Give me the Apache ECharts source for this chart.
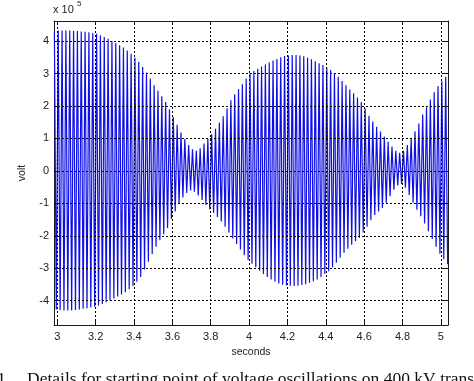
<!DOCTYPE html>
<html>
<head>
<meta charset="utf-8">
<script src="https://cdn.jsdelivr.net/npm/echarts@6/dist/echarts.min.js"></script>
<style>
html,body{margin:0;padding:0;background:#fff;}
#chart{width:474px;height:381px;}
</style>
</head>
<body>
<div id="chart"></div>
<script>
// Time (s) of each positive peak
const peakTimes = [2.985,3.005,3.025,3.045,3.065,3.085,3.105,3.125,3.145,3.165,
3.185,3.205,3.225,3.245,3.265,3.285,3.305,3.325,3.345,3.365,
3.385,3.405,3.425,3.445,3.465,3.485,3.505,3.525,3.545,3.565,
3.585,3.605,3.625,3.645,3.665,3.685,3.705,3.725,3.745,3.765,
3.785,3.805,3.825,3.845,3.865,3.885,3.905,3.925,3.945,3.965,
3.985,4.005,4.025,4.045,4.065,4.085,4.105,4.125,4.145,4.165,
4.185,4.205,4.225,4.245,4.265,4.285,4.305,4.325,4.345,4.365,
4.385,4.405,4.425,4.445,4.465,4.485,4.505,4.525,4.545,4.565,
4.585,4.605,4.625,4.645,4.665,4.685,4.705,4.725,4.745,4.765,
4.785,4.805,4.825,4.845,4.865,4.885,4.905,4.925,4.945,4.965,
4.985,5.005,5.025];
// Positive peak voltage (x 10^5 V)
const peakVolts = [4.30,4.33,4.33,4.33,4.33,4.32,4.31,4.30,4.29,4.27,
4.25,4.23,4.18,4.13,4.07,4.00,3.94,3.87,3.80,3.71,
3.61,3.49,3.36,3.20,3.03,2.85,2.64,2.47,2.30,2.12,
1.90,1.66,1.42,1.18,0.98,0.80,0.67,0.62,0.70,0.84,
0.98,1.13,1.30,1.48,1.68,1.93,2.18,2.36,2.52,2.67,
2.84,3.00,3.08,3.15,3.22,3.28,3.34,3.40,3.45,3.50,
3.54,3.56,3.57,3.57,3.56,3.53,3.49,3.44,3.38,3.32,
3.26,3.19,3.11,3.01,2.90,2.77,2.64,2.51,2.39,2.26,
2.12,1.92,1.70,1.52,1.36,1.21,1.06,0.90,0.75,0.62,
0.56,0.62,0.80,1.00,1.22,1.46,1.74,1.96,2.20,2.42,
2.62,2.76,2.90];
// Time (s) of each negative peak
const troughTimes = [2.995,3.015,3.035,3.055,3.075,3.095,3.115,3.135,3.155,3.175,
3.195,3.215,3.235,3.255,3.275,3.295,3.315,3.335,3.355,3.375,
3.395,3.415,3.435,3.455,3.475,3.495,3.515,3.535,3.555,3.575,
3.595,3.615,3.635,3.655,3.675,3.695,3.715,3.735,3.755,3.775,
3.795,3.815,3.835,3.855,3.875,3.895,3.915,3.935,3.955,3.975,
3.995,4.015,4.035,4.055,4.075,4.095,4.115,4.135,4.155,4.175,
4.195,4.215,4.235,4.255,4.275,4.295,4.315,4.335,4.355,4.375,
4.395,4.415,4.435,4.455,4.475,4.495,4.515,4.535,4.555,4.575,
4.595,4.615,4.635,4.655,4.675,4.695,4.715,4.735,4.755,4.775,
4.795,4.815,4.835,4.855,4.875,4.895,4.915,4.935,4.955,4.975,
4.995,5.015,5.035];
// Negative peak voltage (x 10^5 V)
const troughVolts = [-4.27,-4.29,-4.30,-4.30,-4.30,-4.29,-4.27,-4.25,-4.23,-4.21,
-4.19,-4.15,-4.10,-4.05,-3.99,-3.93,-3.87,-3.81,-3.74,-3.65,
-3.55,-3.42,-3.27,-3.04,-2.80,-2.56,-2.34,-2.14,-1.95,-1.76,
-1.48,-1.25,-1.02,-0.82,-0.68,-0.60,-0.64,-0.76,-0.90,-1.05,
-1.18,-1.30,-1.42,-1.56,-1.72,-1.90,-2.08,-2.25,-2.42,-2.60,
-2.75,-2.86,-2.97,-3.08,-3.18,-3.27,-3.35,-3.42,-3.47,-3.51,
-3.53,-3.54,-3.55,-3.54,-3.52,-3.49,-3.45,-3.40,-3.35,-3.27,
-3.18,-3.09,-2.97,-2.83,-2.68,-2.52,-2.40,-2.28,-2.17,-2.06,
-1.90,-1.72,-1.52,-1.36,-1.25,-1.14,-0.98,-0.78,-0.58,-0.45,
-0.40,-0.52,-0.74,-0.98,-1.20,-1.40,-1.62,-1.86,-2.10,-2.34,
-2.55,-2.72,-2.88];

const xTicks = [3, 3.2, 3.4, 3.6, 3.8, 4, 4.2, 4.4, 4.6, 4.8, 5];
const yTicks = [-4, -3, -2, -1, 0, 1, 2, 3, 4];
const xRange = [2.983, 5.037];
const yRange = [-4.75, 4.62];

const xLabel = 'seconds';
const yLabel = 'volt';
const caption = 'Details for starting point of voltage oscillations on 400 kV transmission line';

// interleave peaks and troughs into one waveform
const wave = [];
for (let i = 0; i < peakTimes.length; i++) {
  wave.push([peakTimes[i], peakVolts[i]]);
  if (i < troughTimes.length) wave.push([troughTimes[i], troughVolts[i]]);
}

const font = 'Liberation Sans, Arial, sans-serif';
const serif = 'Liberation Serif, Times New Roman, serif';
const axisCol = '#1a1a1a';

function xAx(pos, showLabel) {
  return {
    type: 'value', position: pos, min: xRange[0], max: xRange[1],
    axisLine: {show: true, onZero: false, lineStyle: {color: axisCol, width: 1}},
    axisTick: {show: true, inside: true, length: 4, customValues: xTicks, lineStyle: {color: axisCol}},
    axisLabel: {show: showLabel, customValues: xTicks, color: '#222', fontSize: 11, fontFamily: font, margin: 6,
      formatter: v => String(Math.round(v * 10) / 10)},
    splitLine: {show: false},
    name: showLabel ? xLabel : '', nameLocation: 'middle', nameGap: 19,
    nameTextStyle: {color: '#222', fontSize: 10.5, fontFamily: font}
  };
}
function yAx(pos, showLabel) {
  return {
    type: 'value', position: pos, min: yRange[0], max: yRange[1],
    axisLine: {show: true, onZero: false, lineStyle: {color: axisCol, width: 1}},
    axisTick: {show: true, inside: true, length: 4, customValues: yTicks, lineStyle: {color: axisCol}},
    axisLabel: {show: showLabel, customValues: yTicks, color: '#222', fontSize: 11, fontFamily: font, margin: 5,
      formatter: v => String(Math.round(v))},
    splitLine: {show: false},
    name: showLabel ? yLabel : '', nameLocation: 'middle', nameGap: 26, nameRotate: 90,
    nameTextStyle: {color: '#222', fontSize: 10.5, fontFamily: font}
  };
}

const gridLineStyle = {color: '#000', width: 1, type: [2, 2]};

const chart = echarts.init(document.getElementById('chart'), null, {renderer: 'canvas'});
chart.setOption({
  animation: false,
  backgroundColor: '#fff',
  grid: {left: 54, top: 21, width: 394, height: 304, containLabel: false},
  xAxis: [xAx('bottom', true), xAx('top', false)],
  yAxis: [yAx('left', true), yAx('right', false)],
  series: [{
    type: 'line',
    data: wave,
    showSymbol: false,
    symbol: 'none',
    sampling: null,
    lineStyle: {color: '#1010e6', width: 1.2},
    itemStyle: {color: '#1010e6'},
    z: 2,
    markLine: {
      silent: true,
      symbol: ['none', 'none'],
      label: {show: false},
      lineStyle: gridLineStyle,
      z: 3,
      data: xTicks.map(v => ({xAxis: v})).concat(yTicks.map(v => ({yAxis: v})))
    }
  }],
  graphic: [
    {type: 'text', left: 53, top: 4, style: {text: 'x 10', font: '11px ' + font, fill: '#222'}},
    {type: 'text', left: 77, top: 0, style: {text: '5', font: '8px ' + font, fill: '#222'}},
    {type: 'text', left: -3, top: 370, style: {text: '1.', font: '17.5px ' + serif, fill: '#111'}},
    {type: 'text', left: 27, top: 370, style: {text: caption, font: '17.5px ' + serif, fill: '#111'}}
  ]
});
</script>
</body>
</html>
